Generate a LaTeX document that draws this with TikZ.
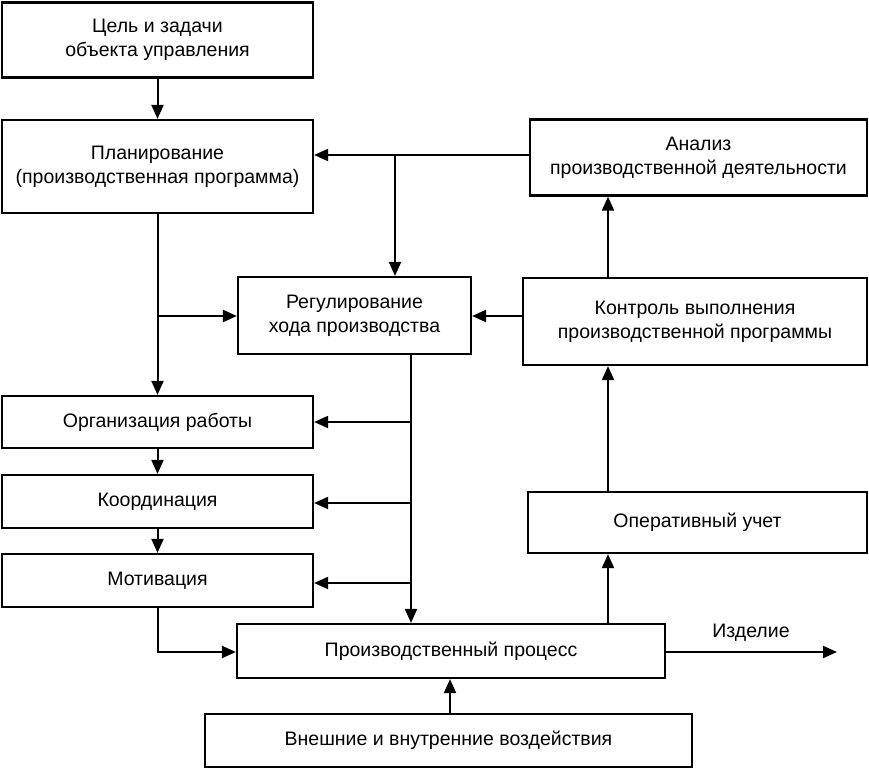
\documentclass[tikz,border=0pt]{standalone}
\usepackage{fontspec}
\setmainfont{Liberation Sans}
\usetikzlibrary{arrows.meta}
\begin{document}
\begin{tikzpicture}[x=1pt,y=-1pt,
  box/.style={draw,line width=2.2pt,align=center,inner sep=0pt,font=\fontsize{19.5}{24}\selectfont},
  conn/.style={line width=2pt},
  arr/.style={conn,-{Triangle[length=14pt,width=12pt]}}]
\useasboundingbox (0,0) rectangle (869,769);
\node[box,minimum width=311pt,minimum height=75pt] (goal) at (157.5,40) {Цель и задачи\\объекта управления};
\node[box,minimum width=311pt,minimum height=93pt] (plan) at (157.5,166.5) {Планирование\\(производственная программа)};
\node[box,minimum width=337pt,minimum height=76pt] (anal) at (698.5,157.5) {Анализ\\производственной деятельности};
\node[box,minimum width=233pt,minimum height=77pt] (reg) at (354.5,315.5) {Регулирование\\хода производства};
\node[box,minimum width=344pt,minimum height=87pt] (ctrl) at (695,321.5) {Контроль выполнения\\производственной программы};
\node[box,minimum width=311pt,minimum height=52pt] (org) at (157.5,422) {Организация работы};
\node[box,minimum width=311pt,minimum height=53pt] (coord) at (157.5,501.5) {Координация};
\node[box,minimum width=311pt,minimum height=53pt] (motiv) at (157.5,580.5) {Мотивация};
\node[box,minimum width=339pt,minimum height=61pt] (oper) at (697.5,522.5) {Оперативный учет};
\node[box,minimum width=428pt,minimum height=54pt] (prod) at (451,651) {Производственный процесс};
\node[box,minimum width=487pt,minimum height=53pt] (ext) at (448.5,740.5) {Внешние и внутренние воздействия};
\coordinate (out) at (837,652);
\coordinate (j1) at (395,155);
\coordinate (j2) at (157,316);
\coordinate (j3) at (411,422);
\coordinate (j4) at (411,503);
\coordinate (j5) at (411,583);
\node[font=\fontsize{19.5}{24}\selectfont] (lbl) at (751,633) {Изделие};
% connectors
\draw[arr] (goal.south) -- (plan.north);
\draw[arr] (anal.west |- j1) -- (plan.east |- j1);
\draw[arr] (j1) -- (j1 |- reg.north);
\draw[arr] (plan.south) -- (org.north);
\draw[arr] (j2) -- (reg.west |- j2);
\draw[arr] (ctrl.west |- j2) -- (reg.east |- j2);
\draw[arr] (608,0 |- ctrl.north) -- (608,0 |- anal.south);
\draw[arr] (j3 |- reg.south) -- (j3 |- prod.north);
\draw[arr] (j3) -- (org.east |- j3);
\draw[arr] (j4) -- (coord.east |- j4);
\draw[arr] (j5) -- (motiv.east |- j5);
\draw[arr] (org.south) -- (coord.north);
\draw[arr] (coord.south) -- (motiv.north);
\draw[arr] (motiv.south) |- (prod.west |- out);
\draw[arr] (prod.east |- out) -- (out);
\draw[arr] (608,0 |- prod.north) -- (608,0 |- oper.south);
\draw[arr] (608,0 |- oper.north) -- (608,0 |- ctrl.south);
\draw[arr] (450,0 |- ext.north) -- (450,0 |- prod.south);
\end{tikzpicture}
\end{document}
